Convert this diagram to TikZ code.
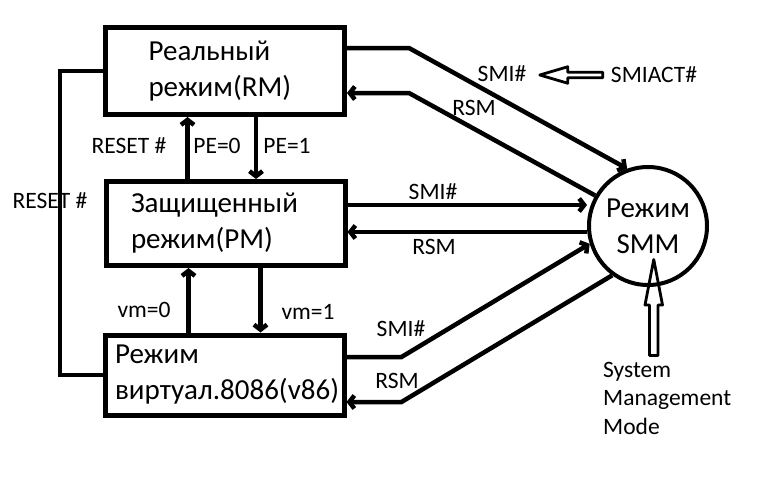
\documentclass[tikz,border=0pt]{standalone}
\usepackage{fontspec}
\setmainfont{Carlito}
\usepackage{tikz}
\usetikzlibrary{positioning,calc,arrows.meta,shapes.geometric}
\tikzset{modo/.style={draw,line width=5pt,minimum width=239pt,inner xsep=0pt,align=left,font=\fontsize{29}{36}\selectfont}}
\tikzset{linea/.style={line width=4.5pt,-{Straight Barb[length=5pt,width=13pt]}}}
\tikzset{senal/.style={inner sep=0pt,font=\fontsize{23.5}{28.5}\selectfont}}
\tikzset{hueca/.style={draw,line width=2.8pt,line join=round}}

\begin{document}
\begin{tikzpicture}[x=1pt,y=-1pt]
            \useasboundingbox (0,0) rectangle (768,480);
            \node[modo, minimum height=87pt, text width=153pt] (rm) at (225,71) {Реальный\\режим(RM)};
            \node[modo, minimum height=84pt, text width=189pt] (pm) at (225.5,223.5) {Защищенный\\режим(PM)};
            \node[modo, minimum height=80pt, text width=219pt] (v86) at (224.5,375) {Режим\\виртуал.8086(v86)};
            \node[draw, circle, line width=4pt, minimum size=118pt, align=center, font=\fontsize{29}{36}\selectfont] (smm) at (648,226) {Режим\\SMM};

            \node[senal] (smia) at (502,74) {SMI\#};
            \node[senal] (smiact) at (654,75) {SMIACT\#};
            \node[senal] (rsma) at (474,108) {RSM};
            \node[senal] (smib) at (433,192) {SMI\#};
            \node[senal] (rsmb) at (434,247) {RSM};
            \node[senal] (smic) at (401,329) {SMI\#};
            \node[senal] (rsmc) at (397,381) {RSM};
            \node[senal] (reseta) at (129,146) {RESET \#};
            \node[senal] (resetb) at (50,201) {RESET \#};
            \node[senal] (pe0) at (217,146) {PE=0};
            \node[senal] (pe1) at (287,146) {PE=1};
            \node[senal] (vm0) at (144,310) {vm=0};
            \node[senal] (vm1) at (308,312) {vm=1};
            \node[senal, align=left, anchor=north west] (smmtxt) at (603,362) {System\\Management\\Mode};

            \coordinate (pe0a) at ([xshift=-38pt]pm.north);
            \coordinate (pe1a) at ([xshift=31pt]rm.south);
            \coordinate (vm0a) at ([xshift=-36pt]v86.north);
            \coordinate (vm1a) at ([xshift=35pt]pm.south);
            \coordinate (pmsmi) at ([yshift=18.5pt]pm.east);
            \coordinate (pmrsm) at ([yshift=-8.5pt]pm.east);

            \draw[linea] (pe0a) -- (pe0a |- rm.south);
            \draw[linea] (pe1a) -- (pe1a |- pm.north);
            \draw[linea] (vm0a) -- (vm0a |- pm.south);
            \draw[linea] (vm1a) -- (vm1a |- v86.north);
            \draw[line width=4.5pt] (rm.west) -- ++(-43,0) |- (v86.west);

            \draw[linea] ([yshift=23pt]rm.east) -- ++(62,0) -- (smm.110);
            \draw[linea] (smm.150) -- ([xshift=62pt,yshift=-22pt]rm.east) -- ([yshift=-22pt]rm.east);
            \draw[linea] (pmsmi) -- (pmsmi -| smm.west);
            \draw[linea] (pmrsm -| smm.west) -- (pmrsm);
            \draw[linea] ([yshift=18pt]v86.east) -- ++(55,0) -- (smm.197);
            \draw[linea] (smm.234) -- ([xshift=55pt,yshift=-27pt]v86.east) -- ([yshift=-27pt]v86.east);

            % hollow arrows
            \coordinate (sa) at ([xshift=-8pt]smiact.west);
            \draw[hueca] (sa) ++(0,-2.75) -- ++(-35,0) -- ++(0,-5.5) -- ++(-28,8.25) -- ++(28,8.25) -- ++(0,-5.5) -- ++(35,0) -- cycle;
            \draw[hueca] (653.75,355.5) ++(-4.25,0) -- ++(0,-50.5) -- ++(-4.5,0) -- ++(8.75,-45.5) -- ++(8.75,45.5) -- ++(-4.5,0) -- ++(0,50.5) -- cycle;
        \end{tikzpicture}
\end{document}
